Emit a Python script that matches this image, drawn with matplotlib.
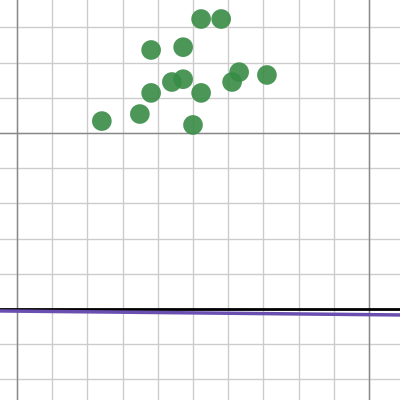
import numpy as np
import matplotlib.pyplot as plt

xs = [5.23, 5.80, 3.81, 4.72, 6.31, 7.10, 4.40, 4.72, 6.11, 3.81, 5.23, 3.49, 2.41, 5.00]
ys = [8.24, 8.24, 7.36, 7.44, 6.73, 6.65, 6.45, 6.53, 6.45, 6.14, 6.14, 5.54, 5.34, 5.23]
slope, intercept = -0.01, -0.06

xmin, xmax = -0.483, 10.88
ymin, ymax = -2.585, 8.78

fig = plt.figure(figsize=(4, 4), dpi=100)
ax = fig.add_axes([0, 0, 1, 1])
ax.set_xlim(xmin, xmax)
ax.set_ylim(ymin, ymax)
ax.axis('off')

for gx in range(0, 11):
    ax.axvline(gx, color='#cccccc', lw=1, zorder=0)
for gy in range(-2, 9):
    ax.axhline(gy, color='#cccccc', lw=1, zorder=0)
ax.axvline(0, color='#888888', lw=1, zorder=1)
ax.axvline(10, color='#888888', lw=1, zorder=1)
ax.axhline(5, color='#888888', lw=1, zorder=1)
ax.axhline(0, color='black', lw=2, zorder=2)

lx = np.array([xmin, xmax])
ax.plot(lx, slope * lx + intercept, color='#6a4fb0', lw=2.5, zorder=3)
ax.scatter(xs, ys, s=200, color='#388c46', alpha=0.9, edgecolors='none', zorder=4)

fig.savefig('out.png', dpi=100)
